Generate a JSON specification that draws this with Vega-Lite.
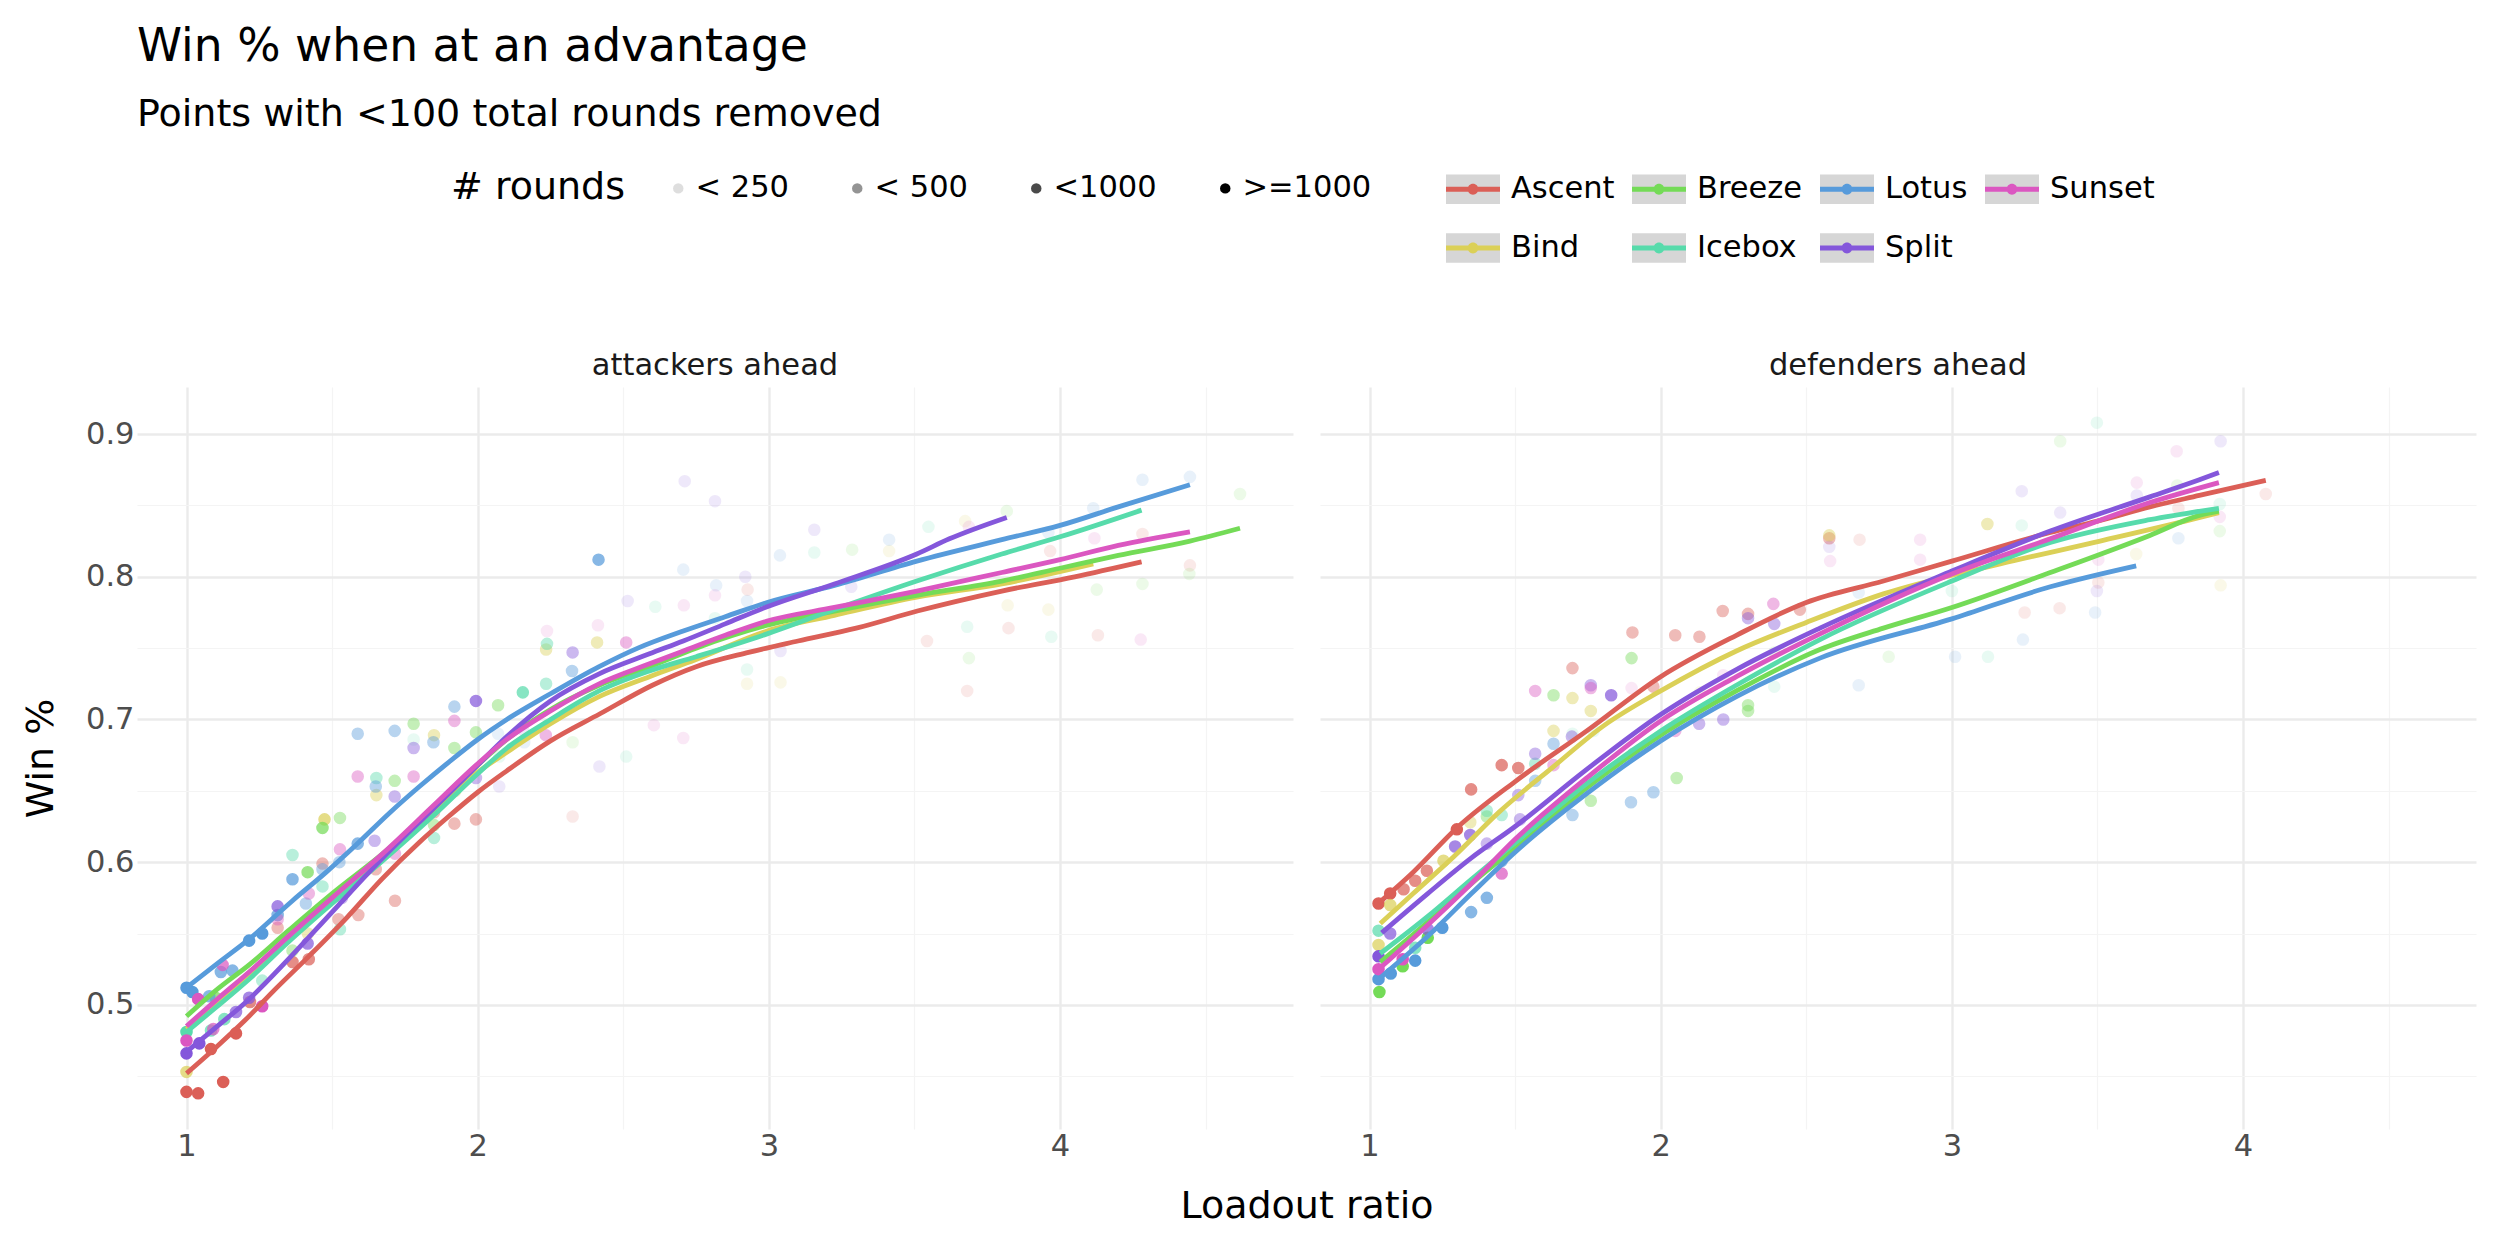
{
"$schema": "https://vega.github.io/schema/vega-lite/v6.json",
"background": "white",
"padding": {"left": 22, "top": 25, "right": 10, "bottom": 10},
"bounds": "flush",
"spacing": 27,
"title": {"text": "Win % when at an advantage", "subtitle": "Points with <100 total rounds removed", "anchor": "start", "frame": "group", "fontSize": 45.6, "subtitleFontSize": 38, "font": "DejaVu Sans", "subtitleFont": "DejaVu Sans", "fontWeight": "normal", "color": "#000000", "subtitleColor": "#000000", "subtitlePadding": 25, "offset": 28},
"datasets": {
"att_pts": [
{"map":"Ascent","ratio":1.0,"win":0.439,"rounds":">=1000"},
{"map":"Ascent","ratio":1.04,"win":0.438,"rounds":">=1000"},
{"map":"Ascent","ratio":1.126,"win":0.446,"rounds":">=1000"},
{"map":"Ascent","ratio":1.084,"win":0.469,"rounds":">=1000"},
{"map":"Ascent","ratio":1.17,"win":0.48,"rounds":">=1000"},
{"map":"Ascent","ratio":1.218,"win":0.502,"rounds":"<1000"},
{"map":"Ascent","ratio":1.313,"win":0.554,"rounds":"< 500"},
{"map":"Ascent","ratio":1.364,"win":0.53,"rounds":"<1000"},
{"map":"Ascent","ratio":1.42,"win":0.532,"rounds":"<1000"},
{"map":"Ascent","ratio":1.467,"win":0.599,"rounds":"< 500"},
{"map":"Ascent","ratio":1.522,"win":0.56,"rounds":"< 500"},
{"map":"Ascent","ratio":1.59,"win":0.563,"rounds":"< 500"},
{"map":"Ascent","ratio":1.65,"win":0.595,"rounds":"< 500"},
{"map":"Ascent","ratio":1.716,"win":0.573,"rounds":"< 500"},
{"map":"Ascent","ratio":1.85,"win":0.635,"rounds":"< 500"},
{"map":"Ascent","ratio":1.92,"win":0.627,"rounds":"< 500"},
{"map":"Ascent","ratio":1.994,"win":0.63,"rounds":"< 500"},
{"map":"Ascent","ratio":2.326,"win":0.632,"rounds":"< 250"},
{"map":"Ascent","ratio":2.927,"win":0.791,"rounds":"< 250"},
{"map":"Ascent","ratio":3.543,"win":0.755,"rounds":"< 250"},
{"map":"Ascent","ratio":3.681,"win":0.72,"rounds":"< 250"},
{"map":"Ascent","ratio":3.966,"win":0.818,"rounds":"< 250"},
{"map":"Ascent","ratio":4.283,"win":0.83,"rounds":"< 250"},
{"map":"Ascent","ratio":3.823,"win":0.764,"rounds":"< 250"},
{"map":"Ascent","ratio":4.13,"win":0.759,"rounds":"< 250"},
{"map":"Ascent","ratio":4.446,"win":0.808,"rounds":"< 250"},
{"map":"Bind","ratio":1.0,"win":0.453,"rounds":"<1000"},
{"map":"Bind","ratio":1.417,"win":0.55,"rounds":"< 500"},
{"map":"Bind","ratio":1.474,"win":0.63,"rounds":"<1000"},
{"map":"Bind","ratio":1.652,"win":0.647,"rounds":"< 500"},
{"map":"Bind","ratio":1.85,"win":0.689,"rounds":"< 500"},
{"map":"Bind","ratio":1.923,"win":0.65,"rounds":"< 500"},
{"map":"Bind","ratio":2.235,"win":0.749,"rounds":"< 500"},
{"map":"Bind","ratio":2.41,"win":0.754,"rounds":"< 500"},
{"map":"Bind","ratio":2.925,"win":0.725,"rounds":"< 250"},
{"map":"Bind","ratio":3.04,"win":0.726,"rounds":"< 250"},
{"map":"Bind","ratio":3.413,"win":0.818,"rounds":"< 250"},
{"map":"Bind","ratio":3.674,"win":0.839,"rounds":"< 250"},
{"map":"Bind","ratio":3.96,"win":0.777,"rounds":"< 250"},
{"map":"Bind","ratio":3.82,"win":0.78,"rounds":"< 250"},
{"map":"Breeze","ratio":1.1,"win":0.505,"rounds":"<1000"},
{"map":"Breeze","ratio":1.364,"win":0.538,"rounds":"< 500"},
{"map":"Breeze","ratio":1.416,"win":0.593,"rounds":"<1000"},
{"map":"Breeze","ratio":1.467,"win":0.624,"rounds":"<1000"},
{"map":"Breeze","ratio":1.527,"win":0.631,"rounds":"< 500"},
{"map":"Breeze","ratio":1.715,"win":0.657,"rounds":"< 500"},
{"map":"Breeze","ratio":1.78,"win":0.697,"rounds":"< 500"},
{"map":"Breeze","ratio":1.85,"win":0.626,"rounds":"< 500"},
{"map":"Breeze","ratio":1.92,"win":0.68,"rounds":"< 500"},
{"map":"Breeze","ratio":1.994,"win":0.691,"rounds":"< 500"},
{"map":"Breeze","ratio":2.07,"win":0.71,"rounds":"< 500"},
{"map":"Breeze","ratio":2.326,"win":0.684,"rounds":"< 250"},
{"map":"Breeze","ratio":3.286,"win":0.819,"rounds":"< 250"},
{"map":"Breeze","ratio":3.687,"win":0.743,"rounds":"< 250"},
{"map":"Breeze","ratio":3.817,"win":0.846,"rounds":"< 250"},
{"map":"Breeze","ratio":4.618,"win":0.858,"rounds":"< 250"},
{"map":"Breeze","ratio":4.126,"win":0.791,"rounds":"< 250"},
{"map":"Breeze","ratio":4.283,"win":0.795,"rounds":"< 250"},
{"map":"Breeze","ratio":4.444,"win":0.802,"rounds":"< 250"},
{"map":"Icebox","ratio":1.0,"win":0.481,"rounds":">=1000"},
{"map":"Icebox","ratio":1.084,"win":0.482,"rounds":"<1000"},
{"map":"Icebox","ratio":1.13,"win":0.49,"rounds":"<1000"},
{"map":"Icebox","ratio":1.26,"win":0.517,"rounds":"< 500"},
{"map":"Icebox","ratio":1.364,"win":0.605,"rounds":"< 500"},
{"map":"Icebox","ratio":1.467,"win":0.583,"rounds":"< 500"},
{"map":"Icebox","ratio":1.527,"win":0.553,"rounds":"< 500"},
{"map":"Icebox","ratio":1.652,"win":0.659,"rounds":"< 500"},
{"map":"Icebox","ratio":1.78,"win":0.686,"rounds":"< 250"},
{"map":"Icebox","ratio":1.85,"win":0.617,"rounds":"< 500"},
{"map":"Icebox","ratio":2.074,"win":0.674,"rounds":"< 250"},
{"map":"Icebox","ratio":2.155,"win":0.719,"rounds":"<1000"},
{"map":"Icebox","ratio":2.235,"win":0.725,"rounds":"< 500"},
{"map":"Icebox","ratio":2.238,"win":0.753,"rounds":"< 500"},
{"map":"Icebox","ratio":2.51,"win":0.674,"rounds":"< 250"},
{"map":"Icebox","ratio":2.61,"win":0.779,"rounds":"< 250"},
{"map":"Icebox","ratio":2.815,"win":0.771,"rounds":"< 250"},
{"map":"Icebox","ratio":2.925,"win":0.735,"rounds":"< 250"},
{"map":"Icebox","ratio":3.156,"win":0.817,"rounds":"< 250"},
{"map":"Icebox","ratio":3.548,"win":0.835,"rounds":"< 250"},
{"map":"Icebox","ratio":3.681,"win":0.765,"rounds":"< 250"},
{"map":"Icebox","ratio":3.97,"win":0.758,"rounds":"< 250"},
{"map":"Lotus","ratio":1.0,"win":0.512,"rounds":">=1000"},
{"map":"Lotus","ratio":1.02,"win":0.509,"rounds":">=1000"},
{"map":"Lotus","ratio":1.078,"win":0.506,"rounds":"<1000"},
{"map":"Lotus","ratio":1.118,"win":0.523,"rounds":"<1000"},
{"map":"Lotus","ratio":1.158,"win":0.524,"rounds":"<1000"},
{"map":"Lotus","ratio":1.215,"win":0.545,"rounds":">=1000"},
{"map":"Lotus","ratio":1.26,"win":0.55,"rounds":">=1000"},
{"map":"Lotus","ratio":1.313,"win":0.563,"rounds":"<1000"},
{"map":"Lotus","ratio":1.364,"win":0.588,"rounds":"<1000"},
{"map":"Lotus","ratio":1.41,"win":0.571,"rounds":"< 500"},
{"map":"Lotus","ratio":1.467,"win":0.595,"rounds":"< 500"},
{"map":"Lotus","ratio":1.525,"win":0.6,"rounds":"< 500"},
{"map":"Lotus","ratio":1.588,"win":0.613,"rounds":"<1000"},
{"map":"Lotus","ratio":1.588,"win":0.69,"rounds":"< 500"},
{"map":"Lotus","ratio":1.65,"win":0.653,"rounds":"< 500"},
{"map":"Lotus","ratio":1.715,"win":0.692,"rounds":"< 500"},
{"map":"Lotus","ratio":1.848,"win":0.684,"rounds":"< 500"},
{"map":"Lotus","ratio":1.92,"win":0.709,"rounds":"< 500"},
{"map":"Lotus","ratio":2.07,"win":0.69,"rounds":"< 250"},
{"map":"Lotus","ratio":2.16,"win":0.684,"rounds":"< 250"},
{"map":"Lotus","ratio":2.324,"win":0.734,"rounds":"< 500"},
{"map":"Lotus","ratio":2.415,"win":0.812,"rounds":"<1000"},
{"map":"Lotus","ratio":2.706,"win":0.805,"rounds":"< 250"},
{"map":"Lotus","ratio":2.819,"win":0.794,"rounds":"< 250"},
{"map":"Lotus","ratio":2.925,"win":0.783,"rounds":"< 250"},
{"map":"Lotus","ratio":3.038,"win":0.815,"rounds":"< 250"},
{"map":"Lotus","ratio":3.413,"win":0.826,"rounds":"< 250"},
{"map":"Lotus","ratio":3.96,"win":0.831,"rounds":"< 250"},
{"map":"Lotus","ratio":4.114,"win":0.848,"rounds":"< 250"},
{"map":"Lotus","ratio":4.283,"win":0.868,"rounds":"< 250"},
{"map":"Lotus","ratio":4.446,"win":0.87,"rounds":"< 250"},
{"map":"Split","ratio":1.0,"win":0.466,"rounds":">=1000"},
{"map":"Split","ratio":1.044,"win":0.473,"rounds":">=1000"},
{"map":"Split","ratio":1.17,"win":0.495,"rounds":"<1000"},
{"map":"Split","ratio":1.215,"win":0.505,"rounds":"<1000"},
{"map":"Split","ratio":1.313,"win":0.569,"rounds":"<1000"},
{"map":"Split","ratio":1.416,"win":0.543,"rounds":"<1000"},
{"map":"Split","ratio":1.534,"win":0.575,"rounds":"< 500"},
{"map":"Split","ratio":1.646,"win":0.615,"rounds":"< 500"},
{"map":"Split","ratio":1.715,"win":0.646,"rounds":"< 500"},
{"map":"Split","ratio":1.78,"win":0.68,"rounds":"< 500"},
{"map":"Split","ratio":1.994,"win":0.713,"rounds":"<1000"},
{"map":"Split","ratio":1.994,"win":0.659,"rounds":"< 500"},
{"map":"Split","ratio":2.074,"win":0.653,"rounds":"< 250"},
{"map":"Split","ratio":2.155,"win":0.693,"rounds":"< 250"},
{"map":"Split","ratio":2.326,"win":0.747,"rounds":"< 500"},
{"map":"Split","ratio":2.418,"win":0.667,"rounds":"< 250"},
{"map":"Split","ratio":2.515,"win":0.783,"rounds":"< 250"},
{"map":"Split","ratio":2.711,"win":0.867,"rounds":"< 250"},
{"map":"Split","ratio":2.815,"win":0.853,"rounds":"< 250"},
{"map":"Split","ratio":2.919,"win":0.8,"rounds":"< 250"},
{"map":"Split","ratio":3.04,"win":0.748,"rounds":"< 250"},
{"map":"Split","ratio":3.156,"win":0.833,"rounds":"< 250"},
{"map":"Split","ratio":3.283,"win":0.793,"rounds":"< 250"},
{"map":"Sunset","ratio":1.0,"win":0.475,"rounds":">=1000"},
{"map":"Sunset","ratio":1.04,"win":0.504,"rounds":">=1000"},
{"map":"Sunset","ratio":1.092,"win":0.483,"rounds":"<1000"},
{"map":"Sunset","ratio":1.124,"win":0.528,"rounds":"<1000"},
{"map":"Sunset","ratio":1.26,"win":0.499,"rounds":">=1000"},
{"map":"Sunset","ratio":1.313,"win":0.56,"rounds":"< 500"},
{"map":"Sunset","ratio":1.42,"win":0.578,"rounds":"< 500"},
{"map":"Sunset","ratio":1.527,"win":0.609,"rounds":"< 500"},
{"map":"Sunset","ratio":1.588,"win":0.66,"rounds":"< 500"},
{"map":"Sunset","ratio":1.716,"win":0.606,"rounds":"< 500"},
{"map":"Sunset","ratio":1.78,"win":0.66,"rounds":"< 500"},
{"map":"Sunset","ratio":1.92,"win":0.699,"rounds":"< 500"},
{"map":"Sunset","ratio":2.234,"win":0.689,"rounds":"< 500"},
{"map":"Sunset","ratio":2.238,"win":0.762,"rounds":"< 250"},
{"map":"Sunset","ratio":2.413,"win":0.766,"rounds":"< 250"},
{"map":"Sunset","ratio":2.51,"win":0.754,"rounds":"< 500"},
{"map":"Sunset","ratio":2.605,"win":0.696,"rounds":"< 250"},
{"map":"Sunset","ratio":2.706,"win":0.687,"rounds":"< 250"},
{"map":"Sunset","ratio":2.708,"win":0.78,"rounds":"< 250"},
{"map":"Sunset","ratio":2.815,"win":0.787,"rounds":"< 250"},
{"map":"Sunset","ratio":3.687,"win":0.835,"rounds":"< 250"},
{"map":"Sunset","ratio":4.118,"win":0.827,"rounds":"< 250"},
{"map":"Sunset","ratio":4.277,"win":0.756,"rounds":"< 250"}
],
"def_pts": [
{"map":"Ascent","ratio":1.031,"win":0.571,"rounds":">=1000"},
{"map":"Ascent","ratio":1.071,"win":0.578,"rounds":">=1000"},
{"map":"Ascent","ratio":1.117,"win":0.581,"rounds":"<1000"},
{"map":"Ascent","ratio":1.157,"win":0.587,"rounds":"<1000"},
{"map":"Ascent","ratio":1.197,"win":0.594,"rounds":"<1000"},
{"map":"Ascent","ratio":1.3,"win":0.623,"rounds":">=1000"},
{"map":"Ascent","ratio":1.349,"win":0.651,"rounds":"<1000"},
{"map":"Ascent","ratio":1.454,"win":0.668,"rounds":"<1000"},
{"map":"Ascent","ratio":1.511,"win":0.666,"rounds":"<1000"},
{"map":"Ascent","ratio":1.697,"win":0.736,"rounds":"< 500"},
{"map":"Ascent","ratio":1.903,"win":0.761,"rounds":"< 500"},
{"map":"Ascent","ratio":1.975,"win":0.723,"rounds":"< 500"},
{"map":"Ascent","ratio":2.05,"win":0.759,"rounds":"< 500"},
{"map":"Ascent","ratio":2.133,"win":0.758,"rounds":"< 500"},
{"map":"Ascent","ratio":2.213,"win":0.776,"rounds":"< 500"},
{"map":"Ascent","ratio":2.3,"win":0.774,"rounds":"< 500"},
{"map":"Ascent","ratio":2.478,"win":0.777,"rounds":"< 500"},
{"map":"Ascent","ratio":2.579,"win":0.827,"rounds":"< 500"},
{"map":"Ascent","ratio":2.683,"win":0.826,"rounds":"< 250"},
{"map":"Ascent","ratio":3.25,"win":0.775,"rounds":"< 250"},
{"map":"Ascent","ratio":3.37,"win":0.778,"rounds":"< 250"},
{"map":"Ascent","ratio":3.503,"win":0.796,"rounds":"< 250"},
{"map":"Ascent","ratio":3.778,"win":0.848,"rounds":"< 250"},
{"map":"Ascent","ratio":4.078,"win":0.858,"rounds":"< 250"},
{"map":"Bind","ratio":1.031,"win":0.542,"rounds":"<1000"},
{"map":"Bind","ratio":1.071,"win":0.57,"rounds":"<1000"},
{"map":"Bind","ratio":1.254,"win":0.601,"rounds":"<1000"},
{"map":"Bind","ratio":1.346,"win":0.628,"rounds":"< 500"},
{"map":"Bind","ratio":1.632,"win":0.692,"rounds":"< 500"},
{"map":"Bind","ratio":1.697,"win":0.715,"rounds":"< 500"},
{"map":"Bind","ratio":1.76,"win":0.706,"rounds":"< 500"},
{"map":"Bind","ratio":2.135,"win":0.719,"rounds":"< 250"},
{"map":"Bind","ratio":2.579,"win":0.829,"rounds":"< 500"},
{"map":"Bind","ratio":3.122,"win":0.837,"rounds":"< 500"},
{"map":"Bind","ratio":3.633,"win":0.816,"rounds":"< 250"},
{"map":"Bind","ratio":3.923,"win":0.794,"rounds":"< 250"},
{"map":"Breeze","ratio":1.034,"win":0.509,"rounds":">=1000"},
{"map":"Breeze","ratio":1.114,"win":0.527,"rounds":">=1000"},
{"map":"Breeze","ratio":1.2,"win":0.547,"rounds":">=1000"},
{"map":"Breeze","ratio":1.403,"win":0.632,"rounds":"< 500"},
{"map":"Breeze","ratio":1.632,"win":0.717,"rounds":"< 500"},
{"map":"Breeze","ratio":1.76,"win":0.643,"rounds":"< 500"},
{"map":"Breeze","ratio":1.9,"win":0.743,"rounds":"< 500"},
{"map":"Breeze","ratio":2.055,"win":0.659,"rounds":"< 500"},
{"map":"Breeze","ratio":2.3,"win":0.71,"rounds":"< 500"},
{"map":"Breeze","ratio":2.3,"win":0.706,"rounds":"< 500"},
{"map":"Breeze","ratio":2.39,"win":0.747,"rounds":"< 250"},
{"map":"Breeze","ratio":2.783,"win":0.744,"rounds":"< 250"},
{"map":"Breeze","ratio":3.372,"win":0.895,"rounds":"< 250"},
{"map":"Breeze","ratio":3.774,"win":0.864,"rounds":"< 250"},
{"map":"Breeze","ratio":3.92,"win":0.832,"rounds":"< 250"},
{"map":"Icebox","ratio":1.031,"win":0.552,"rounds":"<1000"},
{"map":"Icebox","ratio":1.157,"win":0.54,"rounds":"<1000"},
{"map":"Icebox","ratio":1.403,"win":0.636,"rounds":"< 500"},
{"map":"Icebox","ratio":1.454,"win":0.633,"rounds":"< 500"},
{"map":"Icebox","ratio":1.569,"win":0.669,"rounds":"< 500"},
{"map":"Icebox","ratio":1.697,"win":0.69,"rounds":"< 250"},
{"map":"Icebox","ratio":1.77,"win":0.692,"rounds":"< 250"},
{"map":"Icebox","ratio":2.39,"win":0.723,"rounds":"< 250"},
{"map":"Icebox","ratio":3.0,"win":0.79,"rounds":"< 250"},
{"map":"Icebox","ratio":3.124,"win":0.744,"rounds":"< 250"},
{"map":"Icebox","ratio":3.24,"win":0.836,"rounds":"< 250"},
{"map":"Icebox","ratio":3.498,"win":0.908,"rounds":"< 250"},
{"map":"Icebox","ratio":3.92,"win":0.851,"rounds":"< 250"},
{"map":"Lotus","ratio":1.031,"win":0.518,"rounds":">=1000"},
{"map":"Lotus","ratio":1.073,"win":0.522,"rounds":">=1000"},
{"map":"Lotus","ratio":1.157,"win":0.531,"rounds":">=1000"},
{"map":"Lotus","ratio":1.25,"win":0.554,"rounds":">=1000"},
{"map":"Lotus","ratio":1.349,"win":0.565,"rounds":"<1000"},
{"map":"Lotus","ratio":1.403,"win":0.575,"rounds":"<1000"},
{"map":"Lotus","ratio":1.454,"win":0.601,"rounds":"<1000"},
{"map":"Lotus","ratio":1.569,"win":0.657,"rounds":"< 500"},
{"map":"Lotus","ratio":1.632,"win":0.683,"rounds":"< 500"},
{"map":"Lotus","ratio":1.697,"win":0.633,"rounds":"< 500"},
{"map":"Lotus","ratio":1.898,"win":0.642,"rounds":"< 500"},
{"map":"Lotus","ratio":1.975,"win":0.649,"rounds":"< 500"},
{"map":"Lotus","ratio":2.215,"win":0.715,"rounds":"< 250"},
{"map":"Lotus","ratio":2.68,"win":0.789,"rounds":"< 250"},
{"map":"Lotus","ratio":2.68,"win":0.724,"rounds":"< 250"},
{"map":"Lotus","ratio":3.011,"win":0.744,"rounds":"< 250"},
{"map":"Lotus","ratio":3.244,"win":0.756,"rounds":"< 250"},
{"map":"Lotus","ratio":3.492,"win":0.775,"rounds":"< 250"},
{"map":"Lotus","ratio":3.778,"win":0.827,"rounds":"< 250"},
{"map":"Split","ratio":1.031,"win":0.534,"rounds":">=1000"},
{"map":"Split","ratio":1.071,"win":0.55,"rounds":"<1000"},
{"map":"Split","ratio":1.2,"win":0.553,"rounds":"<1000"},
{"map":"Split","ratio":1.294,"win":0.611,"rounds":"<1000"},
{"map":"Split","ratio":1.346,"win":0.619,"rounds":"<1000"},
{"map":"Split","ratio":1.403,"win":0.613,"rounds":"< 500"},
{"map":"Split","ratio":1.511,"win":0.647,"rounds":"< 500"},
{"map":"Split","ratio":1.517,"win":0.63,"rounds":"< 500"},
{"map":"Split","ratio":1.569,"win":0.676,"rounds":"< 500"},
{"map":"Split","ratio":1.695,"win":0.688,"rounds":"< 500"},
{"map":"Split","ratio":1.76,"win":0.724,"rounds":"< 500"},
{"map":"Split","ratio":1.83,"win":0.717,"rounds":"<1000"},
{"map":"Split","ratio":1.906,"win":0.676,"rounds":"< 500"},
{"map":"Split","ratio":2.132,"win":0.697,"rounds":"< 500"},
{"map":"Split","ratio":2.215,"win":0.7,"rounds":"< 500"},
{"map":"Split","ratio":2.3,"win":0.771,"rounds":"< 500"},
{"map":"Split","ratio":2.39,"win":0.767,"rounds":"< 500"},
{"map":"Split","ratio":2.579,"win":0.821,"rounds":"< 250"},
{"map":"Split","ratio":3.24,"win":0.86,"rounds":"< 250"},
{"map":"Split","ratio":3.372,"win":0.845,"rounds":"< 250"},
{"map":"Split","ratio":3.498,"win":0.79,"rounds":"< 250"},
{"map":"Split","ratio":3.635,"win":0.857,"rounds":"< 250"},
{"map":"Split","ratio":3.923,"win":0.895,"rounds":"< 250"},
{"map":"Sunset","ratio":1.031,"win":0.525,"rounds":">=1000"},
{"map":"Sunset","ratio":1.114,"win":0.532,"rounds":">=1000"},
{"map":"Sunset","ratio":1.454,"win":0.592,"rounds":"<1000"},
{"map":"Sunset","ratio":1.569,"win":0.72,"rounds":"< 500"},
{"map":"Sunset","ratio":1.632,"win":0.668,"rounds":"< 500"},
{"map":"Sunset","ratio":1.76,"win":0.722,"rounds":"< 500"},
{"map":"Sunset","ratio":1.9,"win":0.722,"rounds":"< 250"},
{"map":"Sunset","ratio":2.05,"win":0.692,"rounds":"< 500"},
{"map":"Sunset","ratio":2.215,"win":0.731,"rounds":"< 250"},
{"map":"Sunset","ratio":2.387,"win":0.781,"rounds":"< 500"},
{"map":"Sunset","ratio":2.582,"win":0.811,"rounds":"< 250"},
{"map":"Sunset","ratio":2.891,"win":0.826,"rounds":"< 250"},
{"map":"Sunset","ratio":2.891,"win":0.812,"rounds":"< 250"},
{"map":"Sunset","ratio":3.503,"win":0.812,"rounds":"< 250"},
{"map":"Sunset","ratio":3.635,"win":0.866,"rounds":"< 250"},
{"map":"Sunset","ratio":3.772,"win":0.888,"rounds":"< 250"},
{"map":"Sunset","ratio":3.92,"win":0.842,"rounds":"< 250"}
],
"att_fit": [
{"map":"Ascent","ratio":1.0,"win":0.452},{"map":"Ascent","ratio":1.1,"win":0.47},{"map":"Ascent","ratio":1.2,"win":0.489},{"map":"Ascent","ratio":1.3,"win":0.51},{"map":"Ascent","ratio":1.42,"win":0.534},{"map":"Ascent","ratio":1.55,"win":0.561},{"map":"Ascent","ratio":1.67,"win":0.588},{"map":"Ascent","ratio":1.8,"win":0.614},{"map":"Ascent","ratio":1.9,"win":0.632},{"map":"Ascent","ratio":2.0,"win":0.649},{"map":"Ascent","ratio":2.1,"win":0.664},{"map":"Ascent","ratio":2.25,"win":0.685},{"map":"Ascent","ratio":2.42,"win":0.704},{"map":"Ascent","ratio":2.6,"win":0.724},{"map":"Ascent","ratio":2.75,"win":0.737},{"map":"Ascent","ratio":2.93,"win":0.747},{"map":"Ascent","ratio":3.1,"win":0.755},{"map":"Ascent","ratio":3.3,"win":0.764},{"map":"Ascent","ratio":3.51,"win":0.776},{"map":"Ascent","ratio":3.8,"win":0.79},{"map":"Ascent","ratio":4.05,"win":0.8},{"map":"Ascent","ratio":4.28,"win":0.8105},
{"map":"Bind","ratio":1.0,"win":0.483},{"map":"Bind","ratio":1.1,"win":0.5},{"map":"Bind","ratio":1.215,"win":0.52},{"map":"Bind","ratio":1.35,"win":0.546},{"map":"Bind","ratio":1.5,"win":0.573},{"map":"Bind","ratio":1.674,"win":0.603},{"map":"Bind","ratio":1.85,"win":0.636},{"map":"Bind","ratio":2.0,"win":0.663},{"map":"Bind","ratio":2.1,"win":0.677},{"map":"Bind","ratio":2.25,"win":0.697},{"map":"Bind","ratio":2.417,"win":0.716},{"map":"Bind","ratio":2.59,"win":0.73},{"map":"Bind","ratio":2.75,"win":0.742},{"map":"Bind","ratio":2.994,"win":0.762},{"map":"Bind","ratio":3.225,"win":0.773},{"map":"Bind","ratio":3.508,"win":0.7857},{"map":"Bind","ratio":3.8,"win":0.795},{"map":"Bind","ratio":4.114,"win":0.809},
{"map":"Breeze","ratio":1.0,"win":0.492},{"map":"Breeze","ratio":1.1,"win":0.51},{"map":"Breeze","ratio":1.215,"win":0.528},{"map":"Breeze","ratio":1.35,"win":0.552},{"map":"Breeze","ratio":1.5,"win":0.578},{"map":"Breeze","ratio":1.674,"win":0.606},{"map":"Breeze","ratio":1.85,"win":0.638},{"map":"Breeze","ratio":2.0,"win":0.668},{"map":"Breeze","ratio":2.1,"win":0.686},{"map":"Breeze","ratio":2.25,"win":0.707},{"map":"Breeze","ratio":2.417,"win":0.724},{"map":"Breeze","ratio":2.59,"win":0.737},{"map":"Breeze","ratio":2.75,"win":0.75},{"map":"Breeze","ratio":2.994,"win":0.766},{"map":"Breeze","ratio":3.225,"win":0.776},{"map":"Breeze","ratio":3.508,"win":0.787},{"map":"Breeze","ratio":3.8,"win":0.797},{"map":"Breeze","ratio":4.0,"win":0.806},{"map":"Breeze","ratio":4.2,"win":0.815},{"map":"Breeze","ratio":4.446,"win":0.825},{"map":"Breeze","ratio":4.618,"win":0.834},
{"map":"Icebox","ratio":1.0,"win":0.481},{"map":"Icebox","ratio":1.1,"win":0.498},{"map":"Icebox","ratio":1.215,"win":0.518},{"map":"Icebox","ratio":1.35,"win":0.544},{"map":"Icebox","ratio":1.5,"win":0.571},{"map":"Icebox","ratio":1.674,"win":0.601},{"map":"Icebox","ratio":1.85,"win":0.633},{"map":"Icebox","ratio":2.0,"win":0.662},{"map":"Icebox","ratio":2.1,"win":0.68},{"map":"Icebox","ratio":2.25,"win":0.7},{"map":"Icebox","ratio":2.417,"win":0.72},{"map":"Icebox","ratio":2.59,"win":0.734},{"map":"Icebox","ratio":2.75,"win":0.744},{"map":"Icebox","ratio":2.994,"win":0.76},{"map":"Icebox","ratio":3.225,"win":0.777},{"map":"Icebox","ratio":3.508,"win":0.797},{"map":"Icebox","ratio":3.8,"win":0.816},{"map":"Icebox","ratio":4.0,"win":0.828},{"map":"Icebox","ratio":4.28,"win":0.8467},
{"map":"Lotus","ratio":1.0,"win":0.512},{"map":"Lotus","ratio":1.1,"win":0.528},{"map":"Lotus","ratio":1.215,"win":0.546},{"map":"Lotus","ratio":1.364,"win":0.573},{"map":"Lotus","ratio":1.48,"win":0.593},{"map":"Lotus","ratio":1.582,"win":0.612},{"map":"Lotus","ratio":1.7,"win":0.635},{"map":"Lotus","ratio":1.8,"win":0.653},{"map":"Lotus","ratio":1.9,"win":0.67},{"map":"Lotus","ratio":2.0,"win":0.686},{"map":"Lotus","ratio":2.1,"win":0.7},{"map":"Lotus","ratio":2.25,"win":0.718},{"map":"Lotus","ratio":2.417,"win":0.737},{"map":"Lotus","ratio":2.55,"win":0.75},{"map":"Lotus","ratio":2.706,"win":0.762},{"map":"Lotus","ratio":2.85,"win":0.772},{"map":"Lotus","ratio":2.994,"win":0.782},{"map":"Lotus","ratio":3.225,"win":0.794},{"map":"Lotus","ratio":3.508,"win":0.811},{"map":"Lotus","ratio":3.8,"win":0.826},{"map":"Lotus","ratio":4.0,"win":0.836},{"map":"Lotus","ratio":4.2,"win":0.849},{"map":"Lotus","ratio":4.446,"win":0.8645},
{"map":"Split","ratio":1.0,"win":0.467},{"map":"Split","ratio":1.1,"win":0.484},{"map":"Split","ratio":1.215,"win":0.504},{"map":"Split","ratio":1.35,"win":0.532},{"map":"Split","ratio":1.5,"win":0.565},{"map":"Split","ratio":1.674,"win":0.603},{"map":"Split","ratio":1.85,"win":0.638},{"map":"Split","ratio":2.0,"win":0.668},{"map":"Split","ratio":2.1,"win":0.688},{"map":"Split","ratio":2.25,"win":0.713},{"map":"Split","ratio":2.417,"win":0.732},{"map":"Split","ratio":2.59,"win":0.746},{"map":"Split","ratio":2.706,"win":0.755},{"map":"Split","ratio":2.85,"win":0.767},{"map":"Split","ratio":2.994,"win":0.779},{"map":"Split","ratio":3.225,"win":0.795},{"map":"Split","ratio":3.508,"win":0.816},{"map":"Split","ratio":3.62,"win":0.8266},{"map":"Split","ratio":3.817,"win":0.8416},
{"map":"Sunset","ratio":1.0,"win":0.485},{"map":"Sunset","ratio":1.1,"win":0.503},{"map":"Sunset","ratio":1.215,"win":0.523},{"map":"Sunset","ratio":1.35,"win":0.548},{"map":"Sunset","ratio":1.5,"win":0.575},{"map":"Sunset","ratio":1.674,"win":0.606},{"map":"Sunset","ratio":1.85,"win":0.64},{"map":"Sunset","ratio":2.0,"win":0.669},{"map":"Sunset","ratio":2.1,"win":0.686},{"map":"Sunset","ratio":2.25,"win":0.706},{"map":"Sunset","ratio":2.417,"win":0.725},{"map":"Sunset","ratio":2.59,"win":0.739},{"map":"Sunset","ratio":2.706,"win":0.748},{"map":"Sunset","ratio":2.85,"win":0.759},{"map":"Sunset","ratio":2.994,"win":0.769},{"map":"Sunset","ratio":3.225,"win":0.7785},{"map":"Sunset","ratio":3.508,"win":0.79},{"map":"Sunset","ratio":3.8,"win":0.803},{"map":"Sunset","ratio":4.0,"win":0.812},{"map":"Sunset","ratio":4.2,"win":0.822},{"map":"Sunset","ratio":4.446,"win":0.8315}
],
"def_fit": [
{"map":"Ascent","ratio":1.031,"win":0.5713},{"map":"Ascent","ratio":1.15,"win":0.593},{"map":"Ascent","ratio":1.3,"win":0.624},{"map":"Ascent","ratio":1.5,"win":0.6565},{"map":"Ascent","ratio":1.746,"win":0.692},{"map":"Ascent","ratio":2.0,"win":0.73},{"map":"Ascent","ratio":2.26,"win":0.759},{"map":"Ascent","ratio":2.5,"win":0.782},{"map":"Ascent","ratio":2.765,"win":0.797},{"map":"Ascent","ratio":3.0,"win":0.811},{"map":"Ascent","ratio":3.338,"win":0.831},{"map":"Ascent","ratio":3.5,"win":0.839},{"map":"Ascent","ratio":3.68,"win":0.849},{"map":"Ascent","ratio":3.85,"win":0.857},{"map":"Ascent","ratio":4.078,"win":0.8675},
{"map":"Bind","ratio":1.037,"win":0.557},{"map":"Bind","ratio":1.15,"win":0.578},{"map":"Bind","ratio":1.29,"win":0.604},{"map":"Bind","ratio":1.45,"win":0.636},{"map":"Bind","ratio":1.632,"win":0.667},{"map":"Bind","ratio":1.8,"win":0.695},{"map":"Bind","ratio":2.0,"win":0.72},{"map":"Bind","ratio":2.26,"win":0.748},{"map":"Bind","ratio":2.5,"win":0.768},{"map":"Bind","ratio":2.765,"win":0.788},{"map":"Bind","ratio":3.166,"win":0.809},{"map":"Bind","ratio":3.509,"win":0.825},{"map":"Bind","ratio":3.852,"win":0.8416},{"map":"Bind","ratio":3.917,"win":0.845},
{"map":"Breeze","ratio":1.037,"win":0.53},{"map":"Breeze","ratio":1.2,"win":0.558},{"map":"Breeze","ratio":1.35,"win":0.585},{"map":"Breeze","ratio":1.5,"win":0.61},{"map":"Breeze","ratio":1.746,"win":0.652},{"map":"Breeze","ratio":2.0,"win":0.689},{"map":"Breeze","ratio":2.26,"win":0.72},{"map":"Breeze","ratio":2.547,"win":0.749},{"map":"Breeze","ratio":2.765,"win":0.764},{"map":"Breeze","ratio":3.0,"win":0.7785},{"map":"Breeze","ratio":3.338,"win":0.803},{"map":"Breeze","ratio":3.68,"win":0.829},{"map":"Breeze","ratio":3.85,"win":0.843},{"map":"Breeze","ratio":3.917,"win":0.846},
{"map":"Icebox","ratio":1.037,"win":0.536},{"map":"Icebox","ratio":1.2,"win":0.562},{"map":"Icebox","ratio":1.35,"win":0.588},{"map":"Icebox","ratio":1.5,"win":0.6135},{"map":"Icebox","ratio":1.746,"win":0.655},{"map":"Icebox","ratio":2.0,"win":0.692},{"map":"Icebox","ratio":2.26,"win":0.724},{"map":"Icebox","ratio":2.547,"win":0.756},{"map":"Icebox","ratio":3.0,"win":0.797},{"map":"Icebox","ratio":3.338,"win":0.824},{"map":"Icebox","ratio":3.68,"win":0.84},{"map":"Icebox","ratio":3.917,"win":0.848},
{"map":"Lotus","ratio":1.037,"win":0.519},{"map":"Lotus","ratio":1.2,"win":0.548},{"map":"Lotus","ratio":1.35,"win":0.578},{"map":"Lotus","ratio":1.5,"win":0.607},{"map":"Lotus","ratio":1.746,"win":0.648},{"map":"Lotus","ratio":2.0,"win":0.685},{"map":"Lotus","ratio":2.26,"win":0.716},{"map":"Lotus","ratio":2.547,"win":0.743},{"map":"Lotus","ratio":3.0,"win":0.7705},{"map":"Lotus","ratio":3.338,"win":0.793},{"map":"Lotus","ratio":3.633,"win":0.8077},
{"map":"Split","ratio":1.042,"win":0.5505},{"map":"Split","ratio":1.2,"win":0.578},{"map":"Split","ratio":1.35,"win":0.603},{"map":"Split","ratio":1.5,"win":0.625},{"map":"Split","ratio":1.746,"win":0.665},{"map":"Split","ratio":2.0,"win":0.7035},{"map":"Split","ratio":2.26,"win":0.735},{"map":"Split","ratio":2.547,"win":0.764},{"map":"Split","ratio":3.0,"win":0.804},{"map":"Split","ratio":3.338,"win":0.832},{"map":"Split","ratio":3.68,"win":0.856},{"map":"Split","ratio":3.85,"win":0.868},{"map":"Split","ratio":3.917,"win":0.873},
{"map":"Sunset","ratio":1.037,"win":0.526},{"map":"Sunset","ratio":1.2,"win":0.556},{"map":"Sunset","ratio":1.35,"win":0.585},{"map":"Sunset","ratio":1.5,"win":0.616},{"map":"Sunset","ratio":1.746,"win":0.659},{"map":"Sunset","ratio":2.0,"win":0.699},{"map":"Sunset","ratio":2.26,"win":0.73},{"map":"Sunset","ratio":2.547,"win":0.76},{"map":"Sunset","ratio":3.0,"win":0.802},{"map":"Sunset","ratio":3.338,"win":0.8266},{"map":"Sunset","ratio":3.68,"win":0.852},{"map":"Sunset","ratio":3.917,"win":0.866}
]
},
"hconcat": [
{
"width": 1156, "height": 742,
"title": {"text": "attackers ahead", "fontSize": 30.5, "fontWeight": "normal", "color": "#1A1A1A", "anchor": "middle", "offset": 6, "font": "DejaVu Sans"},
"encoding": {
"x": {"field": "ratio", "type": "quantitative", "scale": {"domain": [0.83, 4.8], "nice": false, "zero": false},
 "axis": {"title": null, "values": [1,1.5,2,2.5,3,3.5,4,4.5], "labelExpr": "datum.value % 1 === 0 ? format(datum.value, 'd') : ''", "labelPadding": 2, "labelOverlap": false,
 "gridColor": {"condition": {"test": "datum.value % 1 === 0", "value": "#EBEBEB"}, "value": "#F4F4F4"},
 "gridWidth": {"condition": {"test": "datum.value % 1 === 0", "value": 2.4}, "value": 1.2}}},
"y": {"field": "win", "type": "quantitative", "scale": {"domain": [0.413, 0.933], "nice": false, "zero": false},
 "axis": {"title": "Win %", "values": [0.45,0.5,0.55,0.6,0.65,0.7,0.75,0.8,0.85,0.9], "labelExpr": "abs(datum.value*10 - round(datum.value*10)) < 0.001 ? format(datum.value, '.1f') : ''", "labelPadding": 3, "titlePadding": 25, "labelOverlap": false,
 "gridColor": {"condition": {"test": "abs(datum.value*10 - round(datum.value*10)) < 0.001", "value": "#EBEBEB"}, "value": "#F4F4F4"},
 "gridWidth": {"condition": {"test": "abs(datum.value*10 - round(datum.value*10)) < 0.001", "value": 2.4}, "value": 1.2}}},
"color": {"field": "map", "type": "nominal",
 "scale": {"domain": ["Ascent","Breeze","Lotus","Sunset","Bind","Icebox","Split"], "range": ["#db5f57","#74db57","#579bdb","#db57c1","#dbd057","#57dbab","#8457db"]},
 "legend": {"title": null, "orient": "none", "legendX": 1309, "legendY": -225, "zindex": 2, "direction": "horizontal", "columns": 4, "columnPadding": 17, "rowPadding": 16, "labelOffset": 11,
  "symbolType": "M-1,-0.09L1,-0.09L1,0.09L-1,0.09Z M-0.2,0A0.2,0.2 0 1,1 0.2,0A0.2,0.2 0 1,1 -0.2,0Z", "symbolSize": 2916, "symbolOpacity": 1, "symbolStrokeWidth": 0}}
},
"layer": [
{"data": {"name": "att_pts"},
 "mark": {"type": "circle", "size": 120, "strokeWidth": 1.6},
 "encoding": {
  "stroke": {"field": "map", "type": "nominal", "scale": {"domain": ["Bind","Ascent","Breeze","Lotus","Sunset","Icebox","Split"], "range": ["#dbd057","#db5f57","#74db57","#579bdb","#db57c1","#57dbab","#8457db"]},
   "legend": {"title": null, "orient": "none", "legendX": 1309, "legendY": -225, "zindex": 1, "direction": "horizontal", "columns": 4, "columnPadding": 17, "rowPadding": 16, "labelOffset": 11,
    "symbolType": "M-1,-0.55L1,-0.55L1,0.55L-1,0.55Z", "symbolSize": 2916, "labelOpacity": 0, "symbolFillColor": "#D6D6D6", "symbolStrokeWidth": 0, "symbolOpacity": 1,
    "labelExpr": "datum.label === 'Bind' ? 'Ascent' : datum.label === 'Ascent' ? 'Breeze' : datum.label === 'Breeze' ? 'Lotus' : datum.label === 'Lotus' ? 'Sunset' : datum.label === 'Sunset' ? 'Bind' : datum.label"}},
  "opacity": {"field": "rounds", "type": "ordinal", "scale": {"domain": ["< 250","< 500","<1000",">=1000"], "range": [0.13, 1]},
   "legend": {"title": "# rounds", "orient": "none", "legendX": 314, "legendY": -214, "direction": "horizontal", "titleOrient": "left", "titleAnchor": "middle", "titleBaseline": "middle", "titlePadding": 37, "columnPadding": 53, "labelOffset": 2, "symbolType": "circle", "symbolSize": 110, "symbolFillColor": "black", "symbolStrokeWidth": 0}}
 }},
{"data": {"name": "att_fit"}, "mark": {"type": "line", "strokeWidth": 4.8, "interpolate": "monotone"}, "encoding": {"detail": {"field": "map"}}}
]
},
{
"width": 1156, "height": 742,
"title": {"text": "defenders ahead", "fontSize": 30.5, "fontWeight": "normal", "color": "#1A1A1A", "anchor": "middle", "offset": 6, "font": "DejaVu Sans"},
"encoding": {
"x": {"field": "ratio", "type": "quantitative", "scale": {"domain": [0.83, 4.8], "nice": false, "zero": false},
 "axis": {"title": "Loadout ratio", "titleX": -13.5, "titlePadding": 26, "values": [1,1.5,2,2.5,3,3.5,4,4.5], "labelExpr": "datum.value % 1 === 0 ? format(datum.value, 'd') : ''", "labelPadding": 2, "labelOverlap": false,
 "gridColor": {"condition": {"test": "datum.value % 1 === 0", "value": "#EBEBEB"}, "value": "#F4F4F4"},
 "gridWidth": {"condition": {"test": "datum.value % 1 === 0", "value": 2.4}, "value": 1.2}}},
"y": {"field": "win", "type": "quantitative", "scale": {"domain": [0.413, 0.933], "nice": false, "zero": false},
 "axis": {"title": null, "labels": false, "values": [0.45,0.5,0.55,0.6,0.65,0.7,0.75,0.8,0.85,0.9],
 "gridColor": {"condition": {"test": "abs(datum.value*10 - round(datum.value*10)) < 0.001", "value": "#EBEBEB"}, "value": "#F4F4F4"},
 "gridWidth": {"condition": {"test": "abs(datum.value*10 - round(datum.value*10)) < 0.001", "value": 2.4}, "value": 1.2}}},
"color": {"field": "map", "type": "nominal",
 "scale": {"domain": ["Ascent","Breeze","Lotus","Sunset","Bind","Icebox","Split"], "range": ["#db5f57","#74db57","#579bdb","#db57c1","#dbd057","#57dbab","#8457db"]},
 "legend": {"title": null, "orient": "none", "legendX": 1309, "legendY": -225, "zindex": 2, "direction": "horizontal", "columns": 4, "columnPadding": 17, "rowPadding": 16, "labelOffset": 11,
  "symbolType": "M-1,-0.09L1,-0.09L1,0.09L-1,0.09Z M-0.2,0A0.2,0.2 0 1,1 0.2,0A0.2,0.2 0 1,1 -0.2,0Z", "symbolSize": 2916, "symbolOpacity": 1, "symbolStrokeWidth": 0}}
},
"layer": [
{"data": {"name": "def_pts"},
 "mark": {"type": "circle", "size": 120, "strokeWidth": 1.6},
 "encoding": {
  "stroke": {"field": "map", "type": "nominal", "scale": {"domain": ["Bind","Ascent","Breeze","Lotus","Sunset","Icebox","Split"], "range": ["#dbd057","#db5f57","#74db57","#579bdb","#db57c1","#57dbab","#8457db"]},
   "legend": {"title": null, "orient": "none", "legendX": 1309, "legendY": -225, "zindex": 1, "direction": "horizontal", "columns": 4, "columnPadding": 17, "rowPadding": 16, "labelOffset": 11,
    "symbolType": "M-1,-0.55L1,-0.55L1,0.55L-1,0.55Z", "symbolSize": 2916, "labelOpacity": 0, "symbolFillColor": "#D6D6D6", "symbolStrokeWidth": 0, "symbolOpacity": 1,
    "labelExpr": "datum.label === 'Bind' ? 'Ascent' : datum.label === 'Ascent' ? 'Breeze' : datum.label === 'Breeze' ? 'Lotus' : datum.label === 'Lotus' ? 'Sunset' : datum.label === 'Sunset' ? 'Bind' : datum.label"}},
  "opacity": {"field": "rounds", "type": "ordinal", "scale": {"domain": ["< 250","< 500","<1000",">=1000"], "range": [0.13, 1]},
   "legend": {"title": "# rounds", "orient": "none", "legendX": 314, "legendY": -214, "direction": "horizontal", "titleOrient": "left", "titleAnchor": "middle", "titleBaseline": "middle", "titlePadding": 37, "columnPadding": 53, "labelOffset": 2, "symbolType": "circle", "symbolSize": 110, "symbolFillColor": "black", "symbolStrokeWidth": 0}}
 }},
{"data": {"name": "def_fit"}, "mark": {"type": "line", "strokeWidth": 4.8, "interpolate": "monotone"}, "encoding": {"detail": {"field": "map"}}}
]
}
],
"config": {
"font": "DejaVu Sans",
"view": {"stroke": null},
"axis": {"labelFont": "DejaVu Sans", "labelFontSize": 30.5, "labelColor": "#4D4D4D", "titleFont": "DejaVu Sans", "titleFontSize": 38, "titleFontWeight": "normal", "titleColor": "#000000", "ticks": false, "domain": false, "gridColor": "#EBEBEB"},
"legend": {"labelFont": "DejaVu Sans", "labelFontSize": 30.5, "labelColor": "#000000", "titleFont": "DejaVu Sans", "titleFontSize": 38, "titleFontWeight": "normal", "titleColor": "#000000", "padding": 0, "labelLimit": 300}
}
}
